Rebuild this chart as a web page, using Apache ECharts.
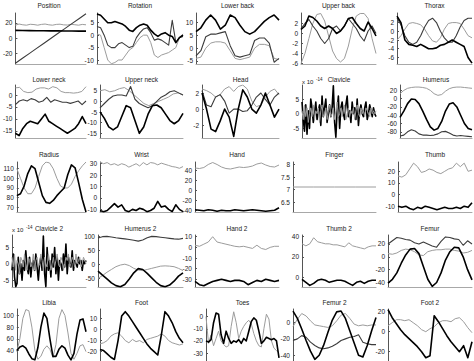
<!DOCTYPE html>
<html><head><meta charset="utf-8">
<script src="https://cdn.jsdelivr.net/npm/echarts@6/dist/echarts.min.js"></script>
<style>html,body{margin:0;padding:0;background:#fff}#c{width:474px;height:361px}</style>
</head><body><div id="c"></div>
<script>
// ---------- panel titles ----------
const panelTitles = ['Position','Rotation','Lower back','Upper back','Thorax',
  'Lower neck','Upper neck','Head','Clavicle','Humerus',
  'Radius','Wrist','Hand','Finger','Thumb',
  'Clavicle 2','Humerus 2','Hand 2','Thumb 2','Femur',
  'Libia','Foot','Toes','Femur 2','Foot 2'];

// ---------- y tick labels ----------
const tickLabels = [
  [-20,0,20],[-10,-5,0,5],[-5,0,5,10],[-6,-4,-2,0,2],[-6,-4,-2,0,2],
  [-15,-10,-5,0],[-15,-10,-5,0,5],[-2,0,2],[-5,0,5],[-80,-60,-40,-20,0,20],
  [70,80,90,100,110],[-10,0,10,20,30],[-40,-20,0,20,40],[6.5,7,7.5,8],[-10,0,10,20],
  [-5,0,5],[-50,0,50,100],[-30,-20,-10,0,10],[0,20,40],[-40,-20,0,20],
  [40,60,80,100],[-20,-10,0,10],[-30,-20,-10,0],[-40,-20,0],[-20,0,20]];

// ---------- y limits ----------
const yLimits = [
  [-34,33],[-11.6,8.9],[-6.2,13.8],[-6.1,4.1],[-7.5,4.2],
  [-18,4.2],[-17.2,7.7],[-3.6,3.0],[-8.3,9.8],[-95,33],
  [65,117],[-12.3,31.5],[-42.6,57],[6.1,8.1],[-15,28],
  [-7.1,8.8],[-81,106],[-37.2,11.6],[-9.6,41.7],[-47,34],
  [22,111],[-28.4,18.4],[-36.6,6.3],[-47,16.5],[-29.3,22.7]];

// ---------- series values ----------
const posDiag = [-33,-26.5,-20,-13.5,-7,-0.5,6,12.5,19,25.5,32];
const posBlack = [10.2,10,9.8,9.7,9.6,9.5,9.5,9.4,9.3,9.2,9.2];
const posGray = [17,18.5,17.5,17,18.2,17.8,17,18,18.5,17.5,17,18,18.3,17.4,17.2,18.1,17.6,17,18,17.5];

const rotBlack = [8.5,8,6.5,5,5,5.5,5,4.5,3.5,2,1.5,3,4,4.5,4,2,0.5,-0.5,0.5,1,0,-0.5,-3,-1,0];
const rotDark = [3.5,3,0,-4,-5,-5,-3.5,-3,-4,-5,-4.5,-1,1,2.5,3,1,-2,-1.5,-2,-3,-4,6,-3,-1,-0.5];
const rotGray = [0.5,0,-5,-10,-11.5,-11,-10,-10,-8,-6,-5,-3,-1,0,0,-3,-8,-9,-8,-7.5,-7,-6,-5,-1,0.5];

const lbBlack = [6.5,8,11,13,11,7.5,9,13,12,9,6.5,5.5,6.5,8.5,10.5,12,13,11];
const lbDark = [-3,-1,4.5,5.5,5.5,6,6.5,1,-3,-3.5,-3,-2.5,3,4,4,2,-5.5,-4];
const lbGray = [-4,-3.5,0,2,2.5,2.5,2,-1,-4,-4.5,-4,-3.5,0,1.5,1.5,1,-4,-4.5];

const ubBlack = [0.8,1.5,3.5,3.2,2.5,1.5,1,1.5,1,0,0.5,1.5,3,3.2,2,1,0.5,2.3,1,-0.5];
const ubDark = [1,2,2.8,1.5,0.5,-1,-2,-1,1,1.5,0.5,1.5,3,2,1,-0.5,-1.5,0.5,1.5,0];
const ubGray = [-6,-4,-1,2,3.8,4,2.5,-0.5,-3.5,-5,-5.7,-5,-2.5,1,3.5,4,4,3,-1,-4];

const thBlack = [3.5,2,-2,-3,-3.2,-3.5,-3,-3.5,-4,-4,-3.8,-3.2,-3,-2.5,-2,-2.5,-3,-3.5,-6,-7.3];
const thDark = [3,1.5,-1,-2.5,-3,-2.5,-1,1,2.5,3,2,0,-1.5,-2.5,-2.5,-1,1,2.5,3,3];
const thGray = [-2,-1,0.5,1.8,2,1.8,1.5,0.5,-1,-2.2,-2.5,-1.5,0.5,1.8,2,2,1.8,0.5,-1,-1.5];

const lnBlack = [-16,-17,-14,-12,-11,-11.5,-12,-10,-8,-11,-12,-13,-14,-15,-16,-15,-14,-12,-9,-12];
const lnDark = [-4,-2.5,-2,-2.5,-1.5,-2,-3,-2.5,-1,-3,-2,-2.5,-3,-3,-3.5,-3,-2.5,-4,-2.5];
const lnGray = [3,3.2,1.5,1,1.2,2.5,3,3,2.5,3.5,3,1.5,1,1,0.8,1,1.5,3.5];

const unBlack = [-4.9,-8,-12,-13.4,-12,-7,-2,-3,-9,-15,-12,-6,-2,-1.7,-3,-6,-9,-10.5,-9,-5.6];
const unDark = [-3,-1,1,2.5,3,3,2.5,7,1,-1,-2,-3,-2,0,2,3,4.5,5,4,3];
const unGray = [5,5.5,4.5,5,6,6.5,5,3,1,-1,-2,-1,0,1,2,3.5,4,3];

const hdBlack = [2,0,-2.5,-2.8,-1.5,0,-1,-3.4,0,2.4,1.5,0,-0.5,0.5,2,0.5,-1,0];
const hdDark = [2.3,0.5,0.3,1.5,1.8,1,-0.5,0,0,-0.3,-0.2,0.5,1.5,2,1.2,0.5,1.5,2];
const hdGray = [2.5,2.3,2,1.5,1.8,2.5,2.8,2.2,2.8,3,2.5,1,0.3,0.5,1.5,2.2,2.5,1.8];

const clBlack = [4,-2,-6,3,-7,1,-5,5,2,-3,0,4,-2,1,3,-4,6,-1,2,5,-3,0,3,-1,2,9.5,-3,-8,1,6,-5,2,4,0,-2,3,6,-1,1,-3,4,0,2,-2,5,-4,1,3,0,-1,2,4,-2,0,3,1,-1,2,0,-1];
const clGray = [1,-2,3,-1,2,-3,0,2,-1,3,-2,1,0,2,-3,1,3,-1,0,2,-2,1,3,-1,0,2,-2,1,4,-1,0,2,-1,1,3,-2,0,2,-1,1,0,2,-2,1,3,0,-1,2,0,1,-1,2,1,0,-1,2,0,1,0,1];

const huBlack = [-45,-30,-12,-1,-2,-12,-30,-50,-68,-76,-72,-55,-30,-13,-10,-20,-40,-60,-72,-75];
const huDark = [-90,-88,-80,-75,-78,-85,-88,-88,-89,-88,-85,-80,-79,-83,-88,-90,-89,-90,-91,-92];
const huGray = [12,20,25,27,28,28,27,25,20,12,8,10,18,24,27,28,28,27,26,25];

const raBlack = [82,84,92,105,113,110,96,82,75,74,77,82,86,90,104,114,111,95,78,65];
const raGray = [110,100,90,84,84,90,102,113,117,116,110,100,92,90,90,94,102,108,113,117];

const wrBlack = [-11,-12,-11,-8,-5,-8,-6,-11,-12,-10,-11,-9,-10,-12,-11,-9,-3,-8,-7,-10,-12,-6,-10,-12];
const wrGray = [31.5,30,31,29,30,28.5,30,29,27,28.5,30,28,31,29,31,30.5,29,30.5,29.5,28.5,27.5,27,26,27.5];

const haBlack = [-38,-39,-40,-38,-39,-41,-39,-40,-40,-38,-39,-40,-39,-38,-39,-40,-41,-40,-39,-34];
const haGray = [45,44,46,52,56,52,47,44,43,45,47,46,47,49,53,55,51,48,47,51];

const fiGray = [7.1,7.1,7.1,7.1,7.1];

const tuBlack = [-10,-11,-10,-12,-13,-11,-12,-10,-11,-12,-13,-12,-11,-12,-12,-11,-12,-10,-11,-7];
const tuGray = [16,15,17,22,27,24,19,20,22,21,19,18,20,22,23,27,24,27,20,21];

const c2Black = [-2,3,-4,-7,-6,2,-3,0,-5,1,-2,4,-1,-3,2,-4,0,1,-2,3,-1,-5,0,2,-2,8.5,-3,-7,5,-2,1,-4,3,-1,5,-3,2,-5,1,0,-2,3,-1,6,-3,2,0,-1,4,-2,1,0,-1,2,0,1,-2,1,0,1];
const c2Gray = [2,-1,3,-2,1,0,-3,2,1,-1,3,0,-2,2,1,-1,0,3,-2,1,2,-1,0,3,1,-2,2,0,-1,3,1,-2,0,2,-1,1,3,0,-1,2,1,-2,0,2,1,3,-1,0,2,1,-1,3,0,1,2,-1,0,2,1,0];

const h2Black = [-24,-38,-52,-66,-76,-80,-72,-52,-30,-15,-18,-32,-48,-64,-76,-80,-74,-60,-42,-30];
const h2Dark = [95,100,101,99,96,94,92,90,87,84,88,96,101,100,98,96,94,92,91,94];
const h2Gray = [-50,-40,-28,-18,-8,-2,1,-4,-14,-20,-22,-18,-14,-10,-6,-5,-6,-8,-14,-22];

const a2Black = [-32,-35,-36,-34,-32,-31,-30,-31,-32,-31,-31,-32,-35,-33,-31,-32,-30,-31,-32,-31];
const a2Gray = [2,1,3,5,10,5,4,3,2,1,0.5,1,0,-1,2,-1,-2,0,1,1];

const t2Black = [-2,-5,-8,-6,-3,-2,-3,-5,-4,-3,-3,-4,-6,-8,-5,-4,-6,-4,-3,-3];
const t2Gray = [33,31,33,39,35,34,33,33,32,32,31,30,34,31,30,29,28,30,31,31];

const feBlack = [-41,-35,-25,-10,3,12,13,5,-15,-35,-46,-40,-25,-5,8,15,14,0,-20,-36];
const feDark = [20,25,30,29,27,26,22,20,23,20,17,15,24,31,30,28,27,18,25,20];
const feGray = [5,4,6,10,12,11,8,3,2,8,10,11,11,12,12,10,9,6,7,10];

const liBlack = [40,46,48,44,34,26,24,45,80,104,95,60,30,30,42,48,44,32,24,35,68,92,94,72];
const liGray = [38,60,95,110,108,80,40,25,30,42,48,42,28,50,95,110,100,70,35,25,35,48,50,38];

const foBlack = [-18,-19,-22,-25,-27,-10,12,16,12,7,2,-3,-8,-13,-17,-20,-23,-5,16,12,6,-2,-8,-12];
const foGray = [-13,-12,-10,-6,-4,-3,-6,-10,-12,-9,-11,-10,-12,-9,-8,-7,-6,-4,-6,-10,-12,-13,-14,-13];

const toBlack = [-20,-21,-19,-5,3,2,-15,-22,-12,-18,-22,-20,-21,-19,-22,-18,-20,-12,-4,-1,-3,-12,-22,-20,-17,-18,-19,-18,-20,-34];
const toGray = [0,-22,-15,-24,-18,-12,-20,-23,-25,-24,-8,4,-5,-18,-12,-8,-5,-3,-6,-14,-20,-24,-25,-10,2,-2,-20,-26,-28,-30];

const f2Black = [14,5,-8,-22,-35,-45,-40,-28,-12,3,13,14,5,-10,-25,-40,-42,-28,-10,6];
const f2Dark = [-22,-20,-16,-18,-24,-28,-31,-32,-31,-29,-26,-22,-20,-18,-17,-15,-24,-26,-27,-27];
const f2Gray = [-5,4,11,8,2,-3,-4,-5,-6,-4,2,9,11,5,-2,-4,-3,-4,-3,-3];

const o2Black = [22,14,8,2,-3,-7,-11,-15,-20,-26,-24,16,10,3,-4,-10,-15,-20,-14,-26,-10];
const o2Gray = [6,9,12,12,11,12,9,6,2,0,3,5,9,11,11,10,13,14,10,4,-1];

// which series belong to which panel (g = gray, d = dark gray, k = black)
const panelLines = [
  [[posGray,'g'],[posDiag,'d'],[posBlack,'k']],
  [[rotGray,'g'],[rotDark,'d'],[rotBlack,'k']],
  [[lbGray,'g'],[lbDark,'d'],[lbBlack,'k']],
  [[ubGray,'g'],[ubDark,'d'],[ubBlack,'k']],
  [[thGray,'g'],[thDark,'d'],[thBlack,'k']],
  [[lnGray,'g'],[lnDark,'d'],[lnBlack,'k']],
  [[unGray,'g'],[unDark,'d'],[unBlack,'k']],
  [[hdGray,'g'],[hdDark,'d'],[hdBlack,'k']],
  [[clBlack,'k'],[clGray,'g']],
  [[huGray,'g'],[huDark,'d'],[huBlack,'k']],
  [[raGray,'g'],[raBlack,'k']],
  [[wrGray,'g'],[wrBlack,'k']],
  [[haGray,'g'],[haBlack,'k']],
  [[fiGray,'g']],
  [[tuGray,'g'],[tuBlack,'k']],
  [[c2Black,'k'],[c2Gray,'g']],
  [[h2Gray,'g'],[h2Dark,'d'],[h2Black,'k']],
  [[a2Gray,'g'],[a2Black,'k']],
  [[t2Gray,'g'],[t2Black,'k']],
  [[feGray,'g'],[feDark,'d'],[feBlack,'k']],
  [[liGray,'g'],[liBlack,'k']],
  [[foGray,'g'],[foBlack,'k']],
  [[toGray,'g'],[toBlack,'k']],
  [[f2Gray,'g'],[f2Dark,'d'],[f2Black,'k']],
  [[o2Gray,'g'],[o2Black,'k']]
];

// ---------- layout (pixels) ----------
const lefts = [[12,97,196,301,397],[12,100,202,302,400],[12,100,195,293,398],[12,98,195,302,388],[12,100,206,293,388]];
const rights = [86,183,279,376,472];
const tops = [13,85,162,235,309];
const bottoms = [64,138,212,287,362];
const titleY = [6,80,155,229,303];

const FONT = 'Liberation Sans, Arial, Helvetica, sans-serif';
const STY = {k:{color:'#000000',width:1.6}, d:{color:'#3c3c3c',width:1.1}, g:{color:'#9c9c9c',width:1}};

const grids=[], xAxes=[], yAxes=[], series=[], titles=[];
panelTitles.forEach((name,i)=>{
  const r=Math.floor(i/5), c=i%5;
  const L=lefts[r][c], R=rights[c], T=tops[r], B=bottoms[r];
  grids.push({left:L, top:T, width:R-L, height:B-T});
  xAxes.push({type:'value', gridIndex:i, min:0, max:1,
    axisLine:{show:true, onZero:false, lineStyle:{color:'#a8a8a8', width:1}},
    axisTick:{show:false}, axisLabel:{show:false}, splitLine:{show:false}});
  yAxes.push({type:'value', gridIndex:i, min:yLimits[i][0], max:yLimits[i][1],
    axisLine:{show:true, onZero:false, lineStyle:{color:'#555', width:1}},
    axisTick:{show:true, inside:true, length:2, customValues:tickLabels[i], lineStyle:{color:'#555'}},
    axisLabel:{show:true, customValues:tickLabels[i], fontSize:6.5, color:'#222', margin:3, fontFamily:FONT},
    splitLine:{show:false}});
  panelLines[i].forEach(([arr,k])=>{
    series.push({type:'line', xAxisIndex:i, yAxisIndex:i,
      data: arr.map((v,j)=>[j/(arr.length-1), v]),
      symbol:'none', silent:true, animation:false,
      lineStyle:{color:STY[k].color, width:STY[k].width, join:'round'}});
  });
  titles.push({text:name, left:(L+R)/2, top:titleY[r]-4, textAlign:'center', padding:0,
    textStyle:{fontSize:6.5, fontWeight:'normal', color:'#222', fontFamily:FONT}});
});
// exponent labels
titles.push({text:'x 10', left:302, top:79, padding:0, textStyle:{fontSize:6, fontWeight:'normal', color:'#222', fontFamily:FONT}});
titles.push({text:'-14', left:316, top:77, padding:0, textStyle:{fontSize:4.5, fontWeight:'normal', color:'#222', fontFamily:FONT}});
titles.push({text:'x 10', left:12, top:227, padding:0, textStyle:{fontSize:6, fontWeight:'normal', color:'#222', fontFamily:FONT}});
titles.push({text:'-14', left:26, top:225, padding:0, textStyle:{fontSize:4.5, fontWeight:'normal', color:'#222', fontFamily:FONT}});

const chart = echarts.init(document.getElementById('c'), null, {renderer:'svg'});
chart.setOption({animation:false, backgroundColor:'#fff', title:titles, grid:grids, xAxis:xAxes, yAxis:yAxes, series:series});
</script></body></html>
